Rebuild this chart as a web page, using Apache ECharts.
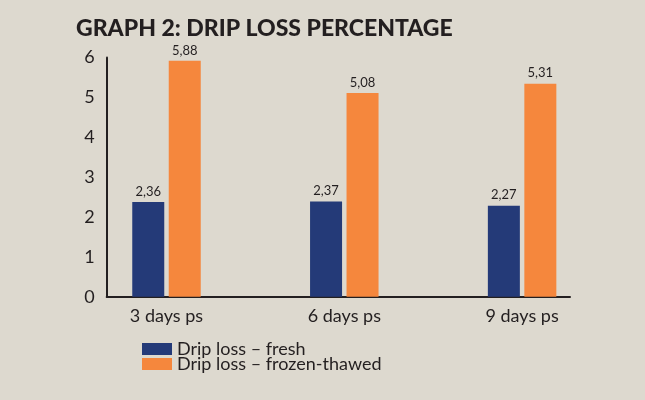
<!DOCTYPE html>
<html>
<head>
<meta charset="utf-8">
<script src="https://cdn.jsdelivr.net/npm/echarts@6/dist/echarts.min.js"></script>
<style>
  html, body { margin: 0; padding: 0; background: #ddd9cf; }
  #main { width: 645px; height: 400px; }
</style>
</head>
<body>
<div id="main"></div>
<script>
var categories = ['3 days ps', '6 days ps', '9 days ps'];
var freshValues = [2.36, 2.37, 2.27];
var frozenValues = [5.88, 5.08, 5.31];
var yTicks = [0, 1, 2, 3, 4, 5, 6];

var font = 'Lato';
var ink = '#231f20';

function comma(p) {
    return String(p.value).replace('.', ',');
}

var chart = echarts.init(document.getElementById('main'));
var option = {
    backgroundColor: '#ddd9cf',
    animation: false,
    title: {
        text: 'GRAPH 2: DRIP LOSS PERCENTAGE',
        left: 71,
        top: 12,
        textStyle: { fontFamily: font, fontSize: 23, fontWeight: 900, color: ink }
    },
    legend: {
        orient: 'vertical',
        left: 137,
        top: 335,
        itemWidth: 30,
        itemHeight: 12,
        itemGap: -3,
        icon: 'rect',
        selectedMode: false,
        textStyle: { fontFamily: font, fontSize: 18, color: ink },
        data: ['Drip loss – fresh', 'Drip loss – frozen-thawed']
    },
    grid: [
        // bars
        { left: 77.6, right: 34, top: 56, bottom: 103.3 },
        // axis lines
        { left: 106.7, right: 75, top: 57.5, bottom: 103.3 }
    ],
    xAxis: [
        {
            type: 'category', gridIndex: 0, data: categories,
            axisLine: { show: false }, axisTick: { show: false },
            axisLabel: { fontFamily: font, fontSize: 18, color: ink, margin: 10 }
        },
        {
            type: 'category', gridIndex: 1, data: categories,
            axisLine: { lineStyle: { color: ink, width: 2 } },
            axisTick: { show: false }, axisLabel: { show: false }
        }
    ],
    yAxis: [
        { type: 'value', gridIndex: 0, min: 0, max: 6, show: false, splitLine: { show: false } },
        {
            type: 'value', gridIndex: 1, min: 0, max: 6, interval: 1,
            axisLine: { show: true, lineStyle: { color: ink, width: 2 } },
            axisTick: { show: false }, splitLine: { show: false },
            axisLabel: {
                fontFamily: font, fontSize: 18, color: ink, margin: 12,
                formatter: function (v) { return yTicks.indexOf(v) >= 0 ? String(v) : ''; }
            }
        }
    ],
    series: [
        {
            name: 'Drip loss – fresh', type: 'bar', xAxisIndex: 0, yAxisIndex: 0,
            data: freshValues, barWidth: 32, barGap: '14%',
            itemStyle: { color: '#243a78' },
            label: { show: true, position: 'top', distance: 4, formatter: comma,
                     fontFamily: font, fontSize: 13, color: ink }
        },
        {
            name: 'Drip loss – frozen-thawed', type: 'bar', xAxisIndex: 0, yAxisIndex: 0,
            data: frozenValues, barWidth: 32, barGap: '14%',
            itemStyle: { color: '#f5873d' },
            label: { show: true, position: 'top', distance: 4, formatter: comma,
                     fontFamily: font, fontSize: 13, color: ink }
        }
    ]
};
chart.setOption(option);
</script>
</body>
</html>
